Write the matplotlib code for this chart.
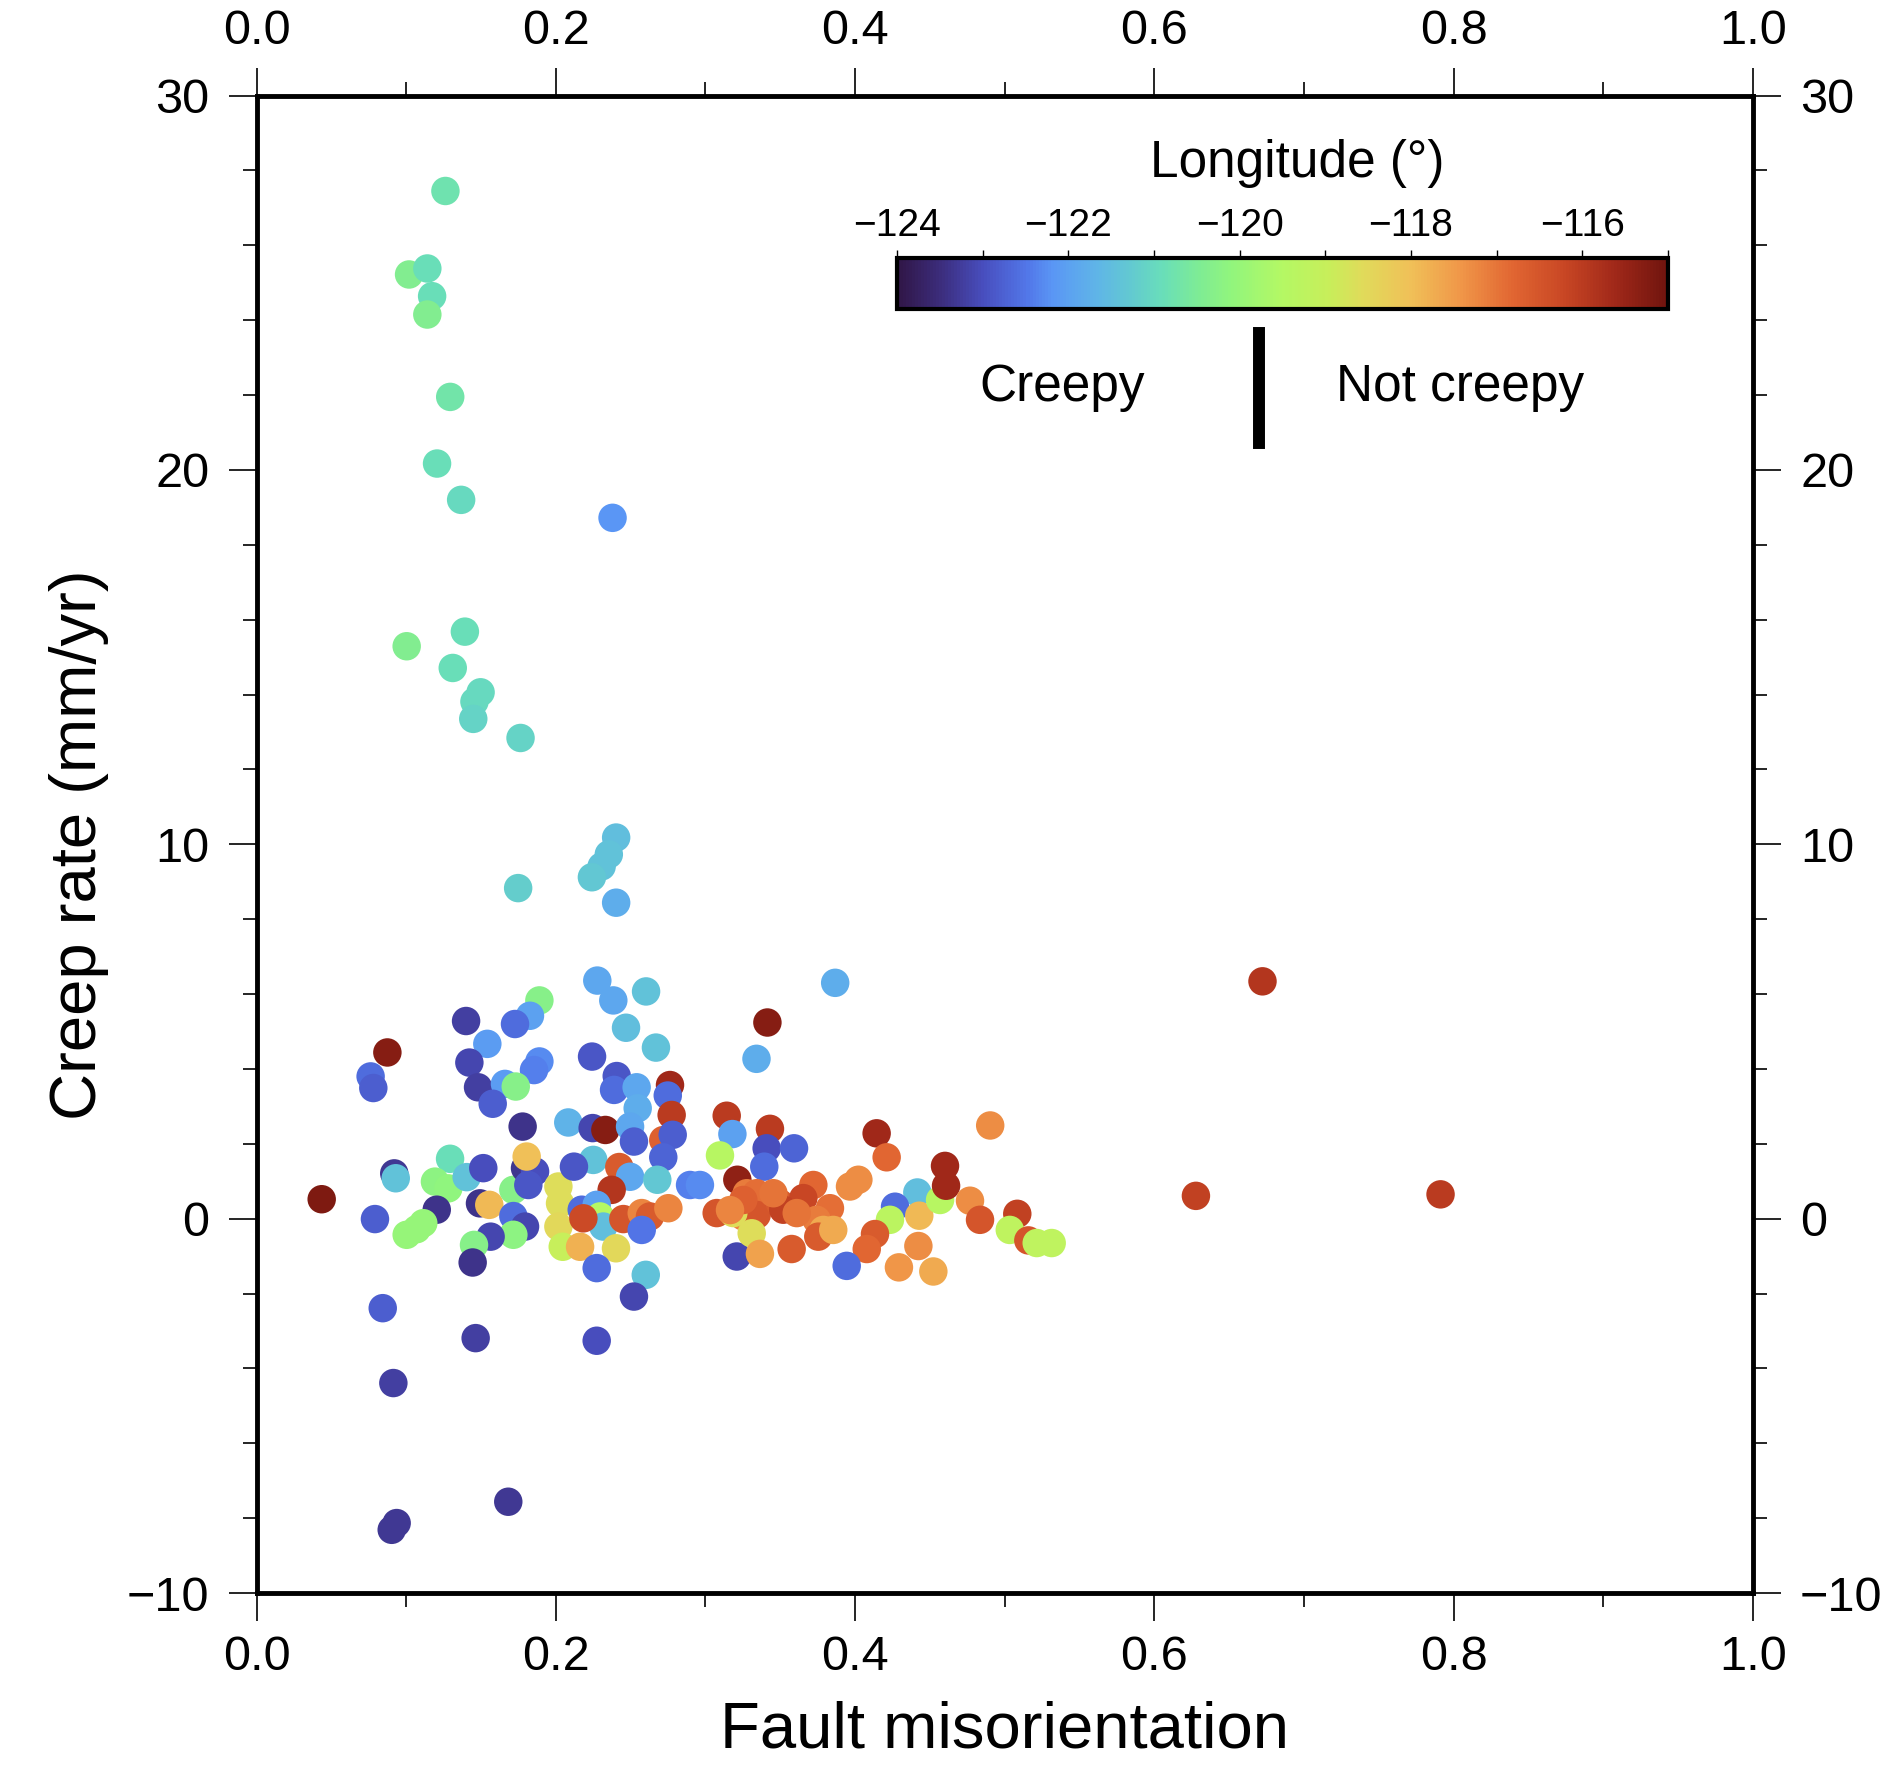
import numpy as np
import matplotlib
matplotlib.use("Agg")
import matplotlib.pyplot as plt
from matplotlib.ticker import MultipleLocator
from matplotlib.colors import LinearSegmentedColormap

plt.rcParams['font.family'] = ['Liberation Sans', 'DejaVu Sans']

# fault misorientation, creep rate (mm/yr), longitude (deg)
misorientation = [
    0.2277, 0.2384, 0.2603, 0.1890, 0.1827, 0.1727, 0.1400, 0.2469, 0.2669, 0.1542,
    0.0874, 0.0762, 0.0780, 0.1422, 0.1890, 0.1854, 0.2242, 0.2407, 0.2389, 0.2540,
    0.2547, 0.2763, 0.2748, 0.2774, 0.1480, 0.1660, 0.1732, 0.1578, 0.1778, 0.2083,
    0.2246, 0.2331, 0.2496, 0.2522, 0.2718, 0.2781, 0.2718, 0.3142, 0.3180, 0.3097,
    0.2250, 0.2424, 0.2496, 0.2678, 0.2373, 0.2897, 0.2963, 0.3213, 0.3276, 0.1293,
    0.1192, 0.1281, 0.1404, 0.1515, 0.0920, 0.0930, 0.0435, 0.0791, 0.1204, 0.1003,
    0.1114, 0.1070, 0.1493, 0.1555, 0.1716, 0.1794, 0.1861, 0.1816, 0.1716, 0.1794,
    0.1716, 0.1564, 0.1453, 0.1444, 0.2017, 0.2028, 0.2017, 0.2046, 0.2162, 0.2121,
    0.2173, 0.2273, 0.2295, 0.2317, 0.2402, 0.2273, 0.2451, 0.2574, 0.2629, 0.2752,
    0.2574, 0.2601, 0.2522, 0.3075, 0.3209, 0.3253, 0.0843, 0.1464, 0.2273, 0.0914,
    0.0936, 0.0903, 0.1682, 0.1805, 0.2184,
    0.3431, 0.3409, 0.3592, 0.3393, 0.3231, 0.3342, 0.3342, 0.3186, 0.3309, 0.3498,
    0.3721, 0.3654, 0.3520, 0.3832, 0.3743, 0.3788, 0.3754, 0.3576, 0.3364, 0.3966,
    0.4022, 0.4144, 0.4211, 0.4416, 0.4267, 0.4233, 0.4429, 0.4568, 0.4601, 0.4608,
    0.4768, 0.4835, 0.5084, 0.5034, 0.5158, 0.5214, 0.5314, 0.4133, 0.4078, 0.3944,
    0.4423, 0.4293, 0.4523, 0.3253, 0.3454, 0.3610, 0.3854, 0.3164,
    0.1262, 0.1019, 0.1141, 0.1173, 0.1141, 0.1294, 0.1206, 0.1367, 0.2379, 0.1392,
    0.1003, 0.1311, 0.1497, 0.1456, 0.1448, 0.1764, 0.2403, 0.2354, 0.2306, 0.2241,
    0.2403, 0.1748, 0.3867, 0.6723, 0.3414, 0.3341, 0.4903, 0.6278, 0.7913,
]
creep_rate = [
    6.36, 5.83, 6.07, 5.83, 5.42, 5.20, 5.28, 5.10, 4.57, 4.67,
    4.44, 3.80, 3.49, 4.17, 4.20, 3.97, 4.33, 3.81, 3.44, 3.51,
    2.95, 3.57, 3.29, 2.77, 3.51, 3.60, 3.53, 3.07, 2.46, 2.57,
    2.42, 2.37, 2.46, 2.06, 2.10, 2.24, 1.64, 2.75, 2.26, 1.69,
    1.57, 1.38, 1.12, 1.04, 0.77, 0.90, 0.90, 1.04, 0.68, 1.60,
    0.99, 0.81, 1.11, 1.35, 1.21, 1.08, 0.52, -0.01, 0.24, -0.43,
    -0.12, -0.28, 0.41, 0.37, 0.77, 1.35, 1.26, 0.90, 0.07, -0.21,
    -0.43, -0.48, -0.70, -1.17, 0.86, 0.41, -0.21, -0.75, -0.75, 1.39,
    0.24, 0.37, 0.06, -0.21, -0.79, -1.32, -0.01, 0.15, 0.06, 0.28,
    -0.30, -1.50, -2.08, 0.15, -1.01, 0.06, -2.39, -3.19, -3.26, -4.39,
    -8.13, -8.31, -7.56, 1.66, 0.01,
    2.40, 1.88, 1.88, 1.39, 0.32, 0.68, 0.10, 0.15, -0.39, 0.41,
    0.90, 0.55, 0.24, 0.28, -0.03, -0.30, -0.48, -0.81, -0.94, 0.86,
    1.04, 2.28, 1.64, 0.70, 0.32, -0.03, 0.08, 0.50, 1.41, 0.88,
    0.48, -0.03, 0.13, -0.30, -0.58, -0.65, -0.65, -0.41, -0.81, -1.26,
    -0.73, -1.30, -1.41, 0.50, 0.68, 0.15, -0.30, 0.23,
    27.45, 25.22, 25.38, 24.64, 24.15, 21.95, 20.17, 19.20, 18.72, 15.68,
    15.29, 14.71, 14.06, 13.81, 13.35, 12.84, 10.18, 9.73, 9.41, 9.12,
    8.44, 8.83, 6.30, 6.34, 5.24, 4.27, 2.49, 0.61, 0.65,
]
longitude = [
    -121.9, -121.9, -121.4, -120.3, -122.0, -122.6, -123.2, -121.5, -121.4, -122.1,
    -115.3, -122.6, -122.8, -123.1, -122.3, -122.4, -122.9, -122.9, -122.6, -121.9,
    -121.8, -115.6, -122.6, -116.0, -123.2, -122.1, -120.3, -122.8, -123.4, -121.7,
    -123.1, -115.3, -121.9, -122.8, -116.7, -122.8, -122.7, -116.0, -122.0, -119.4,
    -121.4, -116.6, -121.9, -121.3, -115.9, -122.4, -122.3, -115.4, -117.1, -120.9,
    -120.2, -120.1, -121.4, -123.0, -123.3, -121.4, -115.2, -122.8, -123.4, -120.0,
    -120.0, -120.0, -123.4, -117.9, -120.3, -123.35, -123.0, -122.9, -122.6, -123.1,
    -120.2, -123.1, -120.3, -123.4, -118.6, -118.6, -118.5, -119.0, -117.8, -122.9,
    -122.6, -122.0, -119.5, -121.5, -118.5, -122.6, -116.5, -117.2, -116.6, -117.2,
    -122.5, -121.4, -123.1, -116.5, -123.1, -117.2, -122.8, -123.2, -123.0, -123.2,
    -123.3, -123.3, -123.3, -118.0, -116.3,
    -116.0, -123.0, -122.7, -122.6, -116.6, -116.9, -116.5, -118.6, -118.6, -116.6,
    -116.8, -116.2, -116.1, -116.9, -117.1, -117.7, -116.6, -116.6, -117.6, -117.3,
    -117.3, -115.6, -116.8, -121.5, -122.6, -119.3, -117.9, -119.4, -115.6, -115.6,
    -117.3, -116.5, -116.1, -119.2, -116.5, -119.2, -119.2, -116.6, -116.8, -122.6,
    -117.3, -117.4, -117.7, -116.7, -117.0, -117.0, -117.7, -117.2,
    -120.8, -120.4, -120.9, -120.9, -120.4, -120.7, -120.9, -121.0, -122.2, -120.9,
    -120.4, -120.9, -121.0, -121.0, -121.1, -121.1, -121.5, -121.4, -121.4, -121.3,
    -121.8, -121.2, -121.8, -115.9, -115.3, -121.8, -117.3, -116.1, -116.0,
]
cbar_ticks = [-124, -122, -120, -118, -116]

# softer turbo-like palette, sampled from the colour bar
cmap_pos = [0.0, 0.056, 0.111, 0.167, 0.2, 0.256, 0.3, 0.344, 0.389, 0.433,
            0.5, 0.561, 0.606, 0.667, 0.733, 0.8, 0.867, 0.933, 1.0]
cmap_rgb = [(48, 22, 70), (60, 45, 125), (72, 78, 190), (82, 118, 232),
            (90, 150, 245), (95, 180, 232), (98, 200, 210), (105, 222, 185),
            (125, 235, 150), (145, 245, 125), (180, 248, 100), (200, 238, 90),
            (225, 218, 90), (240, 192, 88), (240, 150, 72), (225, 102, 50),
            (200, 70, 36), (160, 40, 25), (112, 20, 14)]
cmap = LinearSegmentedColormap.from_list(
    'lon', [(p, tuple(v / 255 for v in c)) for p, c in zip(cmap_pos, cmap_rgb)])

fig = plt.figure(figsize=(18.98, 17.92), dpi=100)
ax = fig.add_axes([0.1352, 0.1110, 0.7883, 0.8357])

sc = ax.scatter(misorientation, creep_rate, c=longitude, cmap=cmap,
                vmin=-124, vmax=-115, s=420, edgecolors='none', zorder=3)

ax.set_xlim(0, 1)
ax.set_ylim(-10, 30)
ax.xaxis.set_major_locator(MultipleLocator(0.2))
ax.xaxis.set_minor_locator(MultipleLocator(0.1))
ax.yaxis.set_major_locator(MultipleLocator(10))
ax.yaxis.set_minor_locator(MultipleLocator(2))
ax.xaxis.set_major_formatter(plt.FormatStrFormatter('%.1f'))

ax.tick_params(which='both', direction='out', top=True, right=True,
               labeltop=True, labelright=True, width=1.2, labelsize=35)
ax.tick_params(which='major', length=20)
ax.tick_params(which='minor', length=10)
ax.tick_params(axis='x', pad=10)
ax.tick_params(axis='y', pad=14)
for sp in ax.spines.values():
    sp.set_linewidth(3.5)

ax.set_xlabel('Fault misorientation', fontsize=47, va='center')
ax.xaxis.set_label_coords(0.5, -0.092)
ax.set_ylabel('Creep rate (mm/yr)', fontsize=47, va='center')
ax.yaxis.set_label_coords(-0.1187, 0.5)

# colour bar inside the plot
cax = fig.add_axes([0.4726, 0.8276, 0.4062, 0.0285])
cb = fig.colorbar(sc, cax=cax, orientation='horizontal')
cb.set_ticks(cbar_ticks)
cb.ax.xaxis.set_minor_locator(MultipleLocator(1))
cb.ax.xaxis.set_ticks_position('top')
cb.ax.xaxis.set_label_position('top')
cb.ax.tick_params(which='both', direction='out', length=6, width=1,
                  labelsize=28, pad=4)
cb.outline.set_linewidth(3)
fig.text(0.6834, 0.9090, 'Longitude (°)', fontsize=37, ha='center', va='center')

# creepy / not creepy marker
fig.text(0.5595, 0.7840, 'Creepy', fontsize=37, ha='center', va='center')
fig.text(0.7692, 0.7840, 'Not creepy', fontsize=37, ha='center', va='center')
fig.add_artist(plt.Line2D([0.6633, 0.6633], [0.7528, 0.8142], color='black',
                          linewidth=8.6, transform=fig.transFigure))

fig.savefig('out.png', dpi=100)
